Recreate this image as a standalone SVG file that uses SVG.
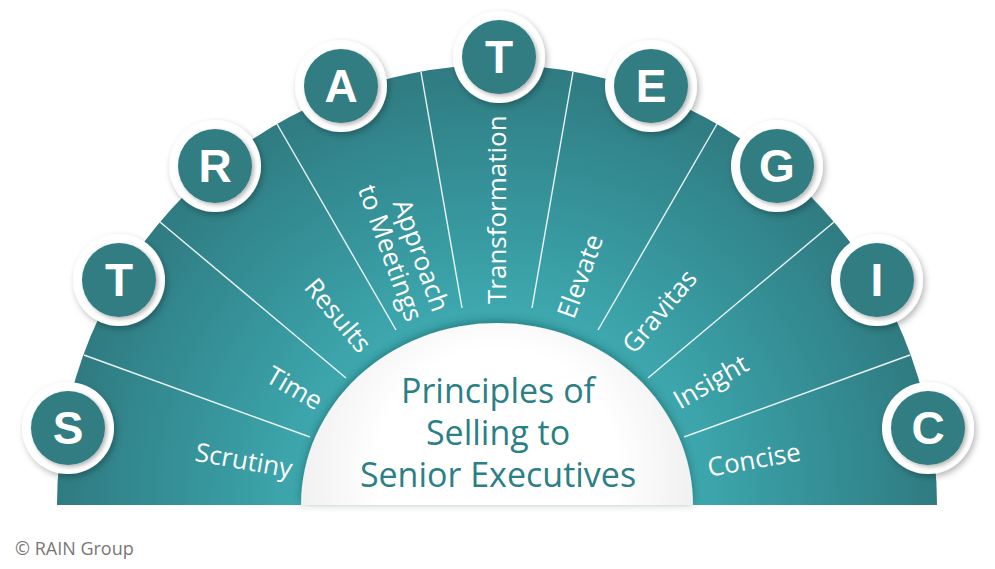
<svg xmlns="http://www.w3.org/2000/svg" width="995" height="569" viewBox="0 0 995 569">
  <defs>
    <radialGradient id="fanGrad" gradientUnits="userSpaceOnUse" cx="497" cy="505" r="440">
      <stop offset="0.42" stop-color="#3eaab0"/>
      <stop offset="0.7" stop-color="#36939a"/>
      <stop offset="1" stop-color="#2f7b81"/>
    </radialGradient>
    <radialGradient id="innerGrad" gradientUnits="userSpaceOnUse" cx="497" cy="470" r="200">
      <stop offset="0.6" stop-color="#ffffff"/>
      <stop offset="1" stop-color="#f0f0f0"/>
    </radialGradient>
    <filter id="innerShadow" x="-20%" y="-20%" width="140%" height="140%">
      <feDropShadow dx="0" dy="-2" stdDeviation="5" flood-color="#0b3a3d" flood-opacity="0.45"/>
    </filter>
    <filter id="ringShadow" x="-40%" y="-40%" width="180%" height="180%">
      <feDropShadow dx="2" dy="3" stdDeviation="3" flood-color="#000" flood-opacity="0.28"/>
    </filter>
    <filter id="discShadow" x="-40%" y="-40%" width="180%" height="180%">
      <feDropShadow dx="2" dy="2" stdDeviation="2" flood-color="#000" flood-opacity="0.3"/>
    </filter>
  </defs>
  <style>
    .ring { fill: #ffffff; filter: url(#ringShadow); }
    .disc { fill: #317d82; filter: url(#discShadow); }
    .letter { font-family: "Liberation Sans", Arial, sans-serif; font-weight: bold; font-size: 46px; fill: #ffffff; text-anchor: middle; }
    .label { font-family: "Open Sans", "Liberation Sans", sans-serif; font-size: 26px; fill: #ffffff; }
    .center { font-family: "Open Sans", "Liberation Sans", sans-serif; font-size: 34px; fill: #2b7f85; text-anchor: middle; }
    .divider { stroke: #ffffff; stroke-width: 1.4; opacity: 0.9; }
    .copy { font-family: "Open Sans", "Liberation Sans", sans-serif; font-size: 18px; fill: #777777; }
  </style>

  <!-- fan body -->
  <path id="fan" d="M 57 505 A 440 440 0 0 1 937 505 Z" fill="url(#fanGrad)"/>

  <!-- connectors: sector dividers -->
  <g id="dividers" class="divider">
    <line x1="310" y1="437" x2="84" y2="355"/>
    <line x1="346" y1="378" x2="160" y2="222"/>
    <line x1="396" y1="330" x2="277" y2="124"/>
    <line x1="462" y1="308" x2="421" y2="72"/>
    <line x1="532" y1="308" x2="573" y2="72"/>
    <line x1="598" y1="330" x2="717" y2="124"/>
    <line x1="648" y1="378" x2="834" y2="222"/>
    <line x1="684" y1="437" x2="910" y2="355"/>
  </g>

  <!-- inner white semicircle -->
  <g id="center-node">
    <path d="M 301 505 A 196 182 0 0 1 693 505 Z" fill="url(#innerGrad)" filter="url(#innerShadow)"/>
    <text class="center" x="498" y="403">Principles of</text>
    <text class="center" x="498" y="445">Selling to</text>
    <text class="center" x="498" y="487">Senior Executives</text>
  </g>

  <!-- sector labels -->
  <g id="label-scrutiny"><text class="label" text-anchor="end" transform="translate(497 505) rotate(10)" x="-208" y="9">Scrutiny</text></g>
  <g id="label-time"><text class="label" text-anchor="end" transform="translate(497 505) rotate(30)" x="-204" y="9">Time</text></g>
  <g id="label-results"><text class="label" text-anchor="end" transform="translate(497 505) rotate(50)" x="-204" y="9">Results</text></g>
  <g id="label-approach">
    <text class="label" text-anchor="end" transform="translate(497 505) rotate(70)" x="-202" y="-5">Approach</text>
    <text class="label" text-anchor="end" transform="translate(497 505) rotate(70)" x="-202" y="23">to Meetings</text>
  </g>
  <g id="label-transformation"><text class="label" text-anchor="start" transform="translate(497 505) rotate(-90)" x="201" y="9">Transformation</text></g>
  <g id="label-elevate"><text class="label" text-anchor="start" transform="translate(497 505) rotate(-70)" x="200" y="9">Elevate</text></g>
  <g id="label-gravitas"><text class="label" text-anchor="start" transform="translate(497 505) rotate(-50)" x="203" y="9">Gravitas</text></g>
  <g id="label-insight"><text class="label" text-anchor="start" transform="translate(497 505) rotate(-30)" x="206" y="9">Insight</text></g>
  <g id="label-concise"><text class="label" text-anchor="start" transform="translate(497 505) rotate(-10)" x="214" y="9">Concise</text></g>

  <!-- letter circles -->
  <g id="node-S"><circle class="ring" cx="68" cy="428" r="46"/><circle class="disc" cx="68" cy="428" r="37"/><text class="letter" x="68" y="444">S</text></g>
  <g id="node-T1"><circle class="ring" cx="119" cy="280" r="46"/><circle class="disc" cx="119" cy="280" r="37"/><text class="letter" x="119" y="296">T</text></g>
  <g id="node-R"><circle class="ring" cx="215" cy="166" r="46"/><circle class="disc" cx="215" cy="166" r="37"/><text class="letter" x="215" y="182">R</text></g>
  <g id="node-A"><circle class="ring" cx="341" cy="86" r="46"/><circle class="disc" cx="341" cy="86" r="37"/><text class="letter" x="341" y="102">A</text></g>
  <g id="node-T2"><circle class="ring" cx="499" cy="57" r="46"/><circle class="disc" cx="499" cy="57" r="37"/><text class="letter" x="499" y="73">T</text></g>
  <g id="node-E"><circle class="ring" cx="651" cy="86" r="46"/><circle class="disc" cx="651" cy="86" r="37"/><text class="letter" x="651" y="102">E</text></g>
  <g id="node-G"><circle class="ring" cx="777" cy="166" r="46"/><circle class="disc" cx="777" cy="166" r="37"/><text class="letter" x="777" y="182">G</text></g>
  <g id="node-I"><circle class="ring" cx="877" cy="280" r="46"/><circle class="disc" cx="877" cy="280" r="37"/><text class="letter" x="877" y="296">I</text></g>
  <g id="node-C"><circle class="ring" cx="928" cy="428" r="46"/><circle class="disc" cx="928" cy="428" r="37"/><text class="letter" x="928" y="444">C</text></g>

  <text class="copy" x="15" y="555">© RAIN Group</text>
</svg>
